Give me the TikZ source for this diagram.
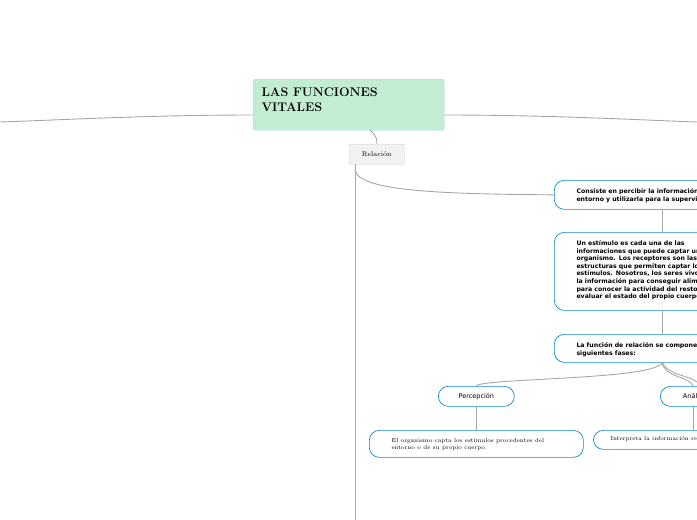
\documentclass[tikz,border=0pt]{standalone}
\usepackage{fontspec}
\setsansfont{DejaVu Sans}
\definecolor{cfill}{HTML}{C2EDD0}
\begin{document}
\begin{tikzpicture}[x=1pt,y=-1pt,
 conn/.style={draw=gray!70,line width=0.9pt},
 bluebox/.style={draw=cyan!70!blue,line width=0.7pt,rounded corners=10pt,fill=white,anchor=north west,inner sep=0pt},
 desc/.style={font=\sffamily\bfseries\fontsize{6.2}{7.6}\selectfont,align=left,text width=#1},
 ]
\useasboundingbox (0,0) rectangle (697,520);
\clip (0,0) rectangle (697,520);
% central
\node[draw=cyan!40,fill=cfill,rounded corners=2pt,minimum width=191pt,minimum height=51pt,anchor=north west,inner sep=0pt] (c) at (253,79) {};
\node[anchor=north west,align=left,font=\bfseries\fontsize{12.5}{15}\selectfont] (ct) at (258,84) {LAS FUNCIONES\\VITALES};
\coordinate (lend) at (0,122);
\coordinate (rend) at (697,122);
\draw[conn] (c.west|-0,115) .. controls (150,115) and (60,120) .. (lend);
\draw[conn] (c.east|-0,115) .. controls (550,115) and (640,120) .. (rend);
% relacion
\node[draw=gray!40,fill=gray!10,rounded corners=2pt,minimum width=55pt,minimum height=20pt,anchor=north west,inner sep=0pt,font=\fontsize{7}{8}\selectfont] (r) at (349,144) {Relación};
\draw[conn] (370,130) .. controls (377,136) and (377,140) .. (r.north);
\coordinate (down) at (355,520);
\draw[conn] (355,164) -- (down);
% boxes
\node[bluebox,minimum width=170pt,minimum height=29pt] (b1) at (554,180) {};
\node[desc=170pt,anchor=north west] at (573,185) {Consiste en percibir la información del\\entorno y utilizarla para la supervivencia.};
\node[bluebox,minimum width=170pt,minimum height=78pt] (b2) at (554,232) {};
\node[desc=170pt,anchor=north west] at (573,237) {Un estímulo es cada una de las\\informaciones que puede captar un\\organismo. Los receptores son las\\estructuras que permiten captar los\\estímulos. Nosotros, los seres vivos, usamos\\la información para conseguir alimento,\\para conocer la actividad del resto y para\\evaluar el estado del propio cuerpo.};
\node[bluebox,minimum width=170pt,minimum height=28pt] (b3) at (554,334) {};
\node[desc=170pt,anchor=north west] at (573,339) {La función de relación se compone de las\\siguientes fases:};
\draw[conn] (355,170) .. controls (358,192) and (450,194) .. (b1.west);
\draw[conn] (662,209) -- (662,232);
\draw[conn] (662,310) -- (662,334);
% phases
\node[bluebox,minimum width=76pt,minimum height=20pt,font=\sffamily\fontsize{6.5}{8}\selectfont] (p) at (438,386) {Percepción};
\node[bluebox,minimum width=70pt,minimum height=20pt,font=\sffamily\fontsize{6.5}{8}\selectfont,text width=60pt,align=center] (a) at (660,386) {Análisis};
\draw[conn] (662,362) .. controls (660,380) and (480,378) .. (p.north);
\draw[conn] (662,362) .. controls (664,378) and (690,376) .. (693,386);
\coordinate (e3) at (697,382);
\draw[conn] (662,362) .. controls (666,374) and (690,376) .. (e3);
\node[bluebox,minimum width=214pt,minimum height=27pt] (p1) at (369,430) {};
\node[anchor=north west,align=left,font=\fontsize{5.8}{7}\selectfont] at (388,435) {El organismo capta los estímulos procedentes del\\entorno o de su propio cuerpo.};
\node[bluebox,minimum width=170pt,minimum height=19pt] (a1) at (593,430) {};
\node[anchor=west,font=\fontsize{5.8}{7}\selectfont] at (607,439.5) {Interpreta la información recibida.};
\draw[conn] (p.south) -- (p1.north-|p.south);
\draw[conn] (693,406) -- (693,430);
\end{tikzpicture}
\end{document}
